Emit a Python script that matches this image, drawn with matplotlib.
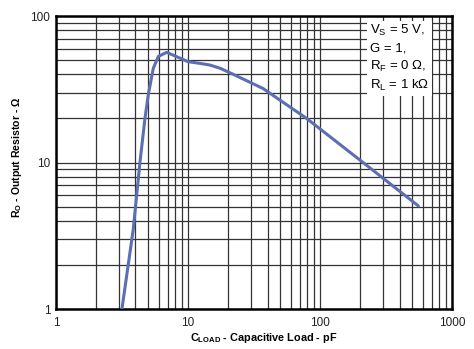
import matplotlib
matplotlib.use('Agg')
import matplotlib.pyplot as plt
import numpy as np

plt.rcParams['font.family'] = ['Liberation Sans', 'DejaVu Sans']

# output resistance vs capacitive load
c_load = [3.16, 3.85, 4.33, 4.72, 5.0, 5.46, 5.96, 6.9, 10.0, 12.3, 14.6, 17.5, 22, 37, 79, 200, 555]
r_out = [1.0, 3.5, 10.1, 20, 29, 44, 53, 56.5, 48.8, 47.5, 46.3, 44, 40, 32, 20, 10.4, 5.05]

x_ticks = [1, 10, 100, 1000]
y_ticks = [1, 10, 100]

fig = plt.figure(figsize=(4.74, 3.49), dpi=100)
ax = fig.add_axes([0.118, 0.1146, 0.836, 0.8395])

ax.set_xscale('log')
ax.set_yscale('log')
ax.set_xlim(1, 1000)
ax.set_ylim(1, 100)

ax.grid(True, which='both', color='#333333', linewidth=0.9)
ax.set_axisbelow(True)

ax.plot(c_load, r_out, color='#5b6fb2', linewidth=2.2, solid_capstyle='round', zorder=3)

ax.set_xticks(x_ticks)
ax.set_xticklabels([str(v) for v in x_ticks])
ax.set_yticks(y_ticks)
ax.set_yticklabels([str(v) for v in y_ticks])
ax.tick_params(which='both', length=0, labelsize=8.5, pad=4, colors='#222222')
ax.tick_params(axis='x', pad=6)

for s in ax.spines.values():
    s.set_linewidth(1.8)
    s.set_color('black')

ax.set_xlabel('C$_{\\mathregular{LOAD}}$ - Capacitive Load - pF', fontsize=7.8, fontweight='bold')
ax.xaxis.set_label_coords(0.525, -0.075)
ax.set_ylabel('R$_{\\mathregular{O}}$ - Output Resistor - Ω', fontsize=7.6, fontweight='bold')
ax.yaxis.set_label_coords(-0.08, 0.52)

ax.text(0.792, 0.975,
        'V$_{\\mathregular{S}}$ = 5 V,\nG = 1,\nR$_{\\mathregular{F}}$ = 0 Ω,\nR$_{\\mathregular{L}}$ = 1 kΩ',
        transform=ax.transAxes, ha='left', va='top', fontsize=9.5, linespacing=1.4,
        bbox=dict(facecolor='white', edgecolor='none', pad=2), zorder=4)

fig.savefig('out.png', dpi=100)
